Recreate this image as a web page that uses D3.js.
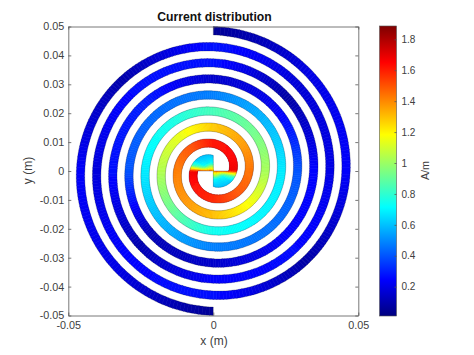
<!DOCTYPE html>
<html>
<head>
<meta charset="utf-8">
<script src="https://cdn.jsdelivr.net/npm/d3@7"></script>
<style>
html,body{margin:0;background:#fff;}
svg{display:block;}
text{font-family:"Liberation Sans",Arial,sans-serif;fill:#404040;}
.axis path,.axis line{stroke:#555;stroke-width:.8;}
.axis text{font-size:10.8px;fill:#404040;}
.cb text{font-size:10px;}
</style>
</head>
<body>
<svg id="chart" width="474" height="355"></svg>
<script>
const xTicks=[-0.05,0,0.05];
const xTickLabels=["-0.05","0","0.05"];
const yTicks=[-0.05,-0.04,-0.03,-0.02,-0.01,0,0.01,0.02,0.03,0.04,0.05];
const yTickLabels=["-0.05","-0.04","-0.03","-0.02","-0.01","0","0.01","0.02","0.03","0.04","0.05"];
const cbTicks=[0.2,0.4,0.6,0.8,1,1.2,1.4,1.6,1.8];
const cbRange=[0.0105,1.886];
const jetColors=["#00007f","#0000ff","#007fff","#00ffff","#7fff7f","#ffff00","#ff7f00","#ff0000","#7f0000"];

// current along each arm, one value every 1/8 turn going inward from the outer end
const armStations=[0,.125,.25,.375,.5,.625,.75,.875,1,1.125,1.25,1.375,1.5,1.625,1.75,1.875,2,2.125,2.25,2.375,2.5,2.625,2.75,2.875,3,3.125,3.25,3.375,3.5,3.625,3.75];
const arm1Values=[.05,.2,.24,.08,.27,.25,.18,.26,.28,.08,.25,.24,.15,.11,.4,.44,.48,.58,.68,.7,.74,.9,1.04,1.14,1.28,1.36,1.44,1.5,1.58,1.62,1.68];
const arm2Values=[.05,.2,.24,.09,.28,.17,.2,.26,.25,.1,.27,.3,.15,.22,.4,.45,.48,.58,.68,.75,.84,.92,1.02,1.18,1.3,1.38,1.42,1.5,1.62,1.64,1.68];

// feed sector at the inner end: rows by radius fraction, columns by turn
const wedgeTurns=[3.75,3.77,3.8,3.84,3.9,4];
const wedgeRadii=[0,.22,.5,1];
const wedgeValues=[
  [1.7,1.7,1.65,1.5,1.4,1.3],
  [1.55,1.4,1.3,1.2,1.1,1.1],
  [1.6,1.3,.95,.72,.68,.72],
  [1.68,1.25,.78,.62,.6,.6]
];

const pitch=0.01115, stripWidth=0.0029, outerRadius=0.05;
const m={left:68.3,right:358.3,top:26.5,bottom:315.5};

const svg=d3.select("#chart");
const defs=svg.append("defs");
defs.append("filter").attr("id","soft").append("feGaussianBlur").attr("stdDeviation",.3);

const x=d3.scaleLinear().domain([-0.05,0.05]).range([m.left,m.right]);
const y=d3.scaleLinear().domain([-0.05,0.05]).range([m.bottom,m.top]);
const color=d3.scaleLinear()
  .domain(jetColors.map((c,i)=>cbRange[0]+(cbRange[1]-cbRange[0])*i/(jetColors.length-1)))
  .range(jetColors).clamp(true);

function pt(r,u,arm){
  const a=2*Math.PI*u+(arm?Math.PI:0);
  return [x(r*Math.sin(a)),y(r*Math.cos(a))];
}
const rOut=u=>outerRadius-pitch*u;
const poly=p=>"M"+p.map(q=>q[0].toFixed(2)+","+q[1].toFixed(2)).join("L")+"Z";

const plot=svg.append("g").attr("filter","url(#soft)");

[arm1Values,arm2Values].forEach((values,arm)=>{
  const uo=d3.range(0,4+1e-6,1/240);
  const uIn=d3.range(0,3.75+1e-6,1/240).reverse();
  const outline=poly(uo.map(u=>pt(rOut(u),u,arm)).concat([[x(0),y(0)]],uIn.map(u=>pt(rOut(u)-stripWidth,u,arm))));
  defs.append("clipPath").attr("id","arm"+arm).append("path").attr("d",outline);

  const g=plot.append("g").attr("clip-path",`url(#arm${arm})`);
  const val=d3.scaleLinear().domain(armStations).range(values);
  const du=1/240;
  const us=d3.range(0,3.75,du);
  g.append("g").selectAll("path").data(us).enter().append("path")
    .attr("d",u=>{
      const u2=Math.min(u+du,3.75);
      return poly([pt(rOut(u)+.0005,u,arm),pt(rOut(u2)+.0005,u2,arm),pt(rOut(u2)-stripWidth-.0005,u2,arm),pt(rOut(u)-stripWidth-.0005,u,arm)]);
    })
    .attr("fill",u=>color(val(u+du/2)))
    .attr("stroke",u=>color(val(u+du/2)))
    .attr("stroke-width",.6);

  // feed sector
  const ws=d3.range(3.75,4,1/96);
  const fr=d3.range(0,1,1/10);
  const byRow=wedgeValues.map(row=>d3.scaleLinear().domain(wedgeTurns).range(row));
  ws.forEach(u=>{
    fr.forEach(f=>{
      const u2=u+1/96,f2=f+.1;
      const um=u+1/192,fm=f+.05;
      const v=d3.scaleLinear().domain(wedgeRadii).range(byRow.map(s=>s(um)))(fm);
      g.append("path")
        .attr("d",poly([pt(rOut(u)*f,u,arm),pt((rOut(u)+.0005)*f2,u,arm),pt((rOut(u2)+.0005)*f2,u2,arm),pt(rOut(u2)*f,u2,arm)]))
        .attr("fill",color(v)).attr("stroke",color(v)).attr("stroke-width",.6);
    });
  });

  // outline of the whole arm
  plot.append("path").attr("d",outline)
    .attr("fill","none").attr("stroke","#202040").attr("stroke-opacity",.45).attr("stroke-width",.6);
});

// axes, ticks on all four sides pointing in
const fmt=(ticks,labels)=>d=>labels[ticks.indexOf(d)];
const ax=(sel,a)=>{sel.attr("class","axis").call(a);return sel;};
ax(svg.append("g").attr("transform",`translate(0,${m.bottom})`),
  d3.axisBottom(x).tickValues(xTicks).tickFormat(fmt(xTicks,xTickLabels)).tickSizeInner(-3).tickSizeOuter(0).tickPadding(6));
ax(svg.append("g").attr("transform",`translate(0,${m.top})`),
  d3.axisTop(x).tickValues(xTicks).tickFormat("").tickSizeInner(-3).tickSizeOuter(0));
ax(svg.append("g").attr("transform",`translate(${m.left},0)`),
  d3.axisLeft(y).tickValues(yTicks).tickFormat(fmt(yTicks,yTickLabels)).tickSizeInner(-3).tickSizeOuter(0).tickPadding(4));
ax(svg.append("g").attr("transform",`translate(${m.right},0)`),
  d3.axisRight(y).tickValues(yTicks).tickFormat("").tickSizeInner(-3).tickSizeOuter(0));

svg.append("text").attr("x",214.5).attr("y",21).attr("text-anchor","middle")
  .attr("font-size","12.2px").attr("font-weight","bold").style("fill","#111").text("Current distribution");
svg.append("text").attr("x",214).attr("y",344.5).attr("text-anchor","middle")
  .attr("font-size","12px").text("x (m)");
svg.append("text").attr("transform","translate(32,170.5) rotate(-90)").attr("text-anchor","middle")
  .attr("font-size","12px").text("y (m)");

// colorbar
const cbX=379.5,cbW=17;
const cbY=d3.scaleLinear().domain(cbRange).range([316,26]);
const grad=defs.append("linearGradient").attr("id","jet")
  .attr("x1",0).attr("x2",0).attr("y1",1).attr("y2",0);
jetColors.forEach((c,i)=>grad.append("stop").attr("offset",i/(jetColors.length-1)).attr("stop-color",c));
svg.append("rect").attr("x",cbX).attr("y",26).attr("width",cbW).attr("height",290).attr("fill","url(#jet)");
const cbAxis=svg.append("g").attr("class","axis cb").attr("transform",`translate(${cbX+cbW},0)`)
  .call(d3.axisRight(cbY).tickValues(cbTicks).tickFormat(d=>String(d)).tickSizeInner(-2).tickSizeOuter(0).tickPadding(5));
cbAxis.select(".domain").remove();
svg.append("rect").attr("x",cbX).attr("y",26).attr("width",cbW).attr("height",290)
  .attr("fill","none").attr("stroke","#555").attr("stroke-width",.6);
svg.append("text").attr("transform","translate(429,170.5) rotate(-90)").attr("text-anchor","middle")
  .attr("font-size","10.8px").text("A/m");
</script>
</body>
</html>
